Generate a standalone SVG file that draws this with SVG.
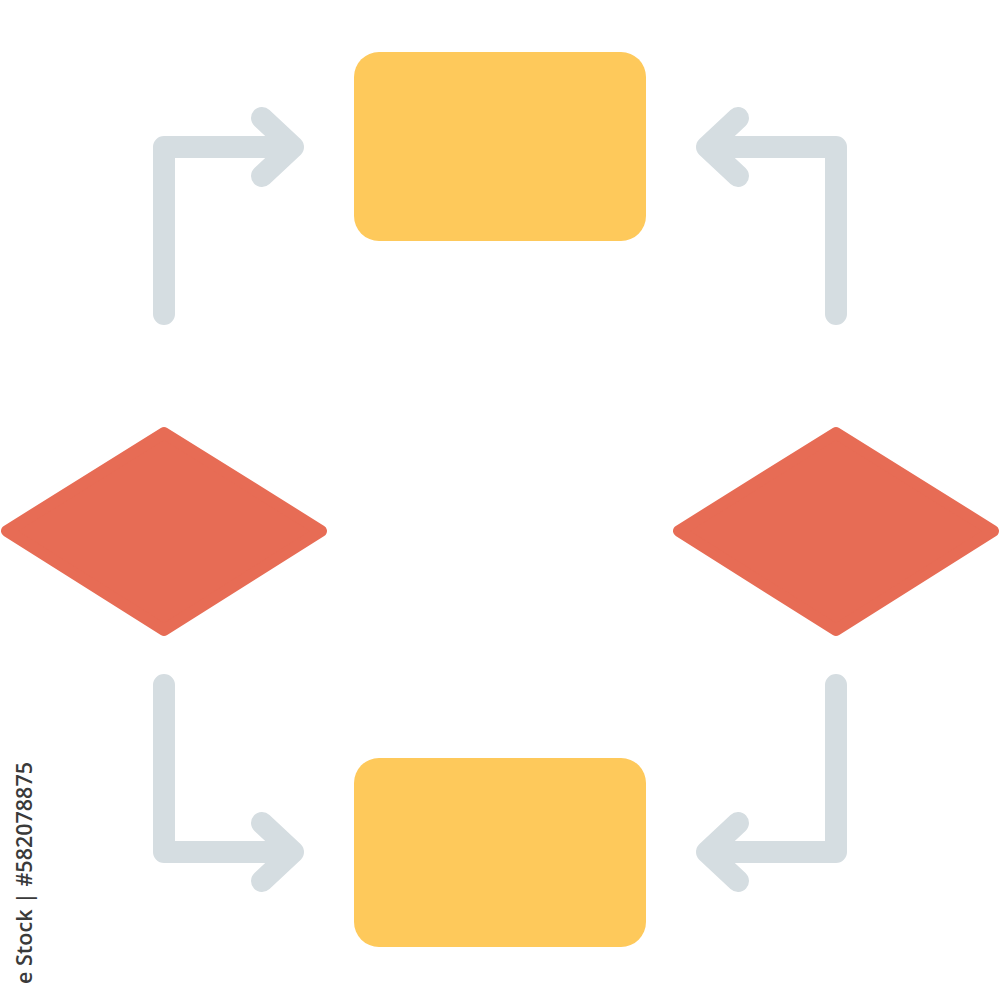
<svg xmlns="http://www.w3.org/2000/svg" width="1000" height="1000" viewBox="0 0 1000 1000">
<style>
.box{fill:#FEC95B}
.dia{fill:#E76C55;stroke:#E76C55;stroke-width:12;stroke-linejoin:round}
.con{fill:none;stroke:#D5DDE1;stroke-width:22;stroke-linecap:round;stroke-linejoin:round}
.credit{font-family:"Open Sans","Liberation Sans",sans-serif;font-size:21.5px;font-weight:600;fill:#3a3a3a}
</style>
<rect width="1000" height="1000" fill="#ffffff"/>
<g id="connectors">
<path class="con" d="M164,314 V147 H293 M262,118 L293,147 L262,176"/>
<path class="con" d="M836,314 V147 H707 M738,118 L707,147 L738,176"/>
<path class="con" d="M164,685 V852 H293 M262,823 L293,852 L262,881"/>
<path class="con" d="M836,685 V852 H707 M738,823 L707,852 L738,881"/>
</g>
<g id="box-top"><rect class="box" x="354" y="52" width="292" height="189" rx="25"/></g>
<g id="box-bottom"><rect class="box" x="354" y="758" width="292" height="189" rx="25"/></g>
<g id="diamond-left"><polygon class="dia" points="7,531 164,433 321,531 164,630"/></g>
<g id="diamond-right"><polygon class="dia" points="679,531 836,433 993,531 836,630"/></g>
<text class="credit" transform="translate(32,762) rotate(-90)" text-anchor="end">e Stock | #582078875</text>
</svg>
